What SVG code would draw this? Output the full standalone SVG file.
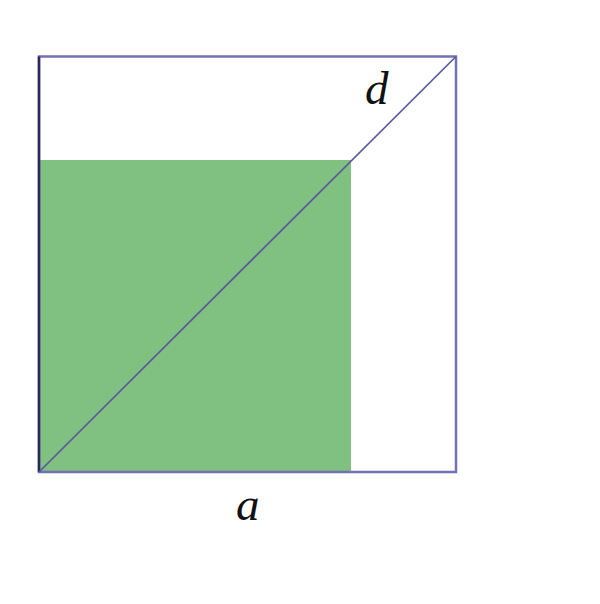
<svg xmlns="http://www.w3.org/2000/svg" width="600" height="604" viewBox="0 0 600 604">
<style>
.lbl{font-family:"Liberation Serif","Times New Roman",serif;font-style:italic;font-size:47px;fill:#111}
.edge{stroke:#7472b4;stroke-width:2.5;fill:none}
</style>
<rect width="600" height="604" fill="#ffffff"/>
<g id="green-square"><rect x="39" y="160" width="312" height="312" fill="#80c080"/></g>
<g id="outer-square"><rect x="39" y="56.5" width="417" height="415.5" class="edge"/>
<line x1="39" y1="56.5" x2="39" y2="472" stroke="#2a2860" stroke-width="2.5"/></g>
<g id="connectors"><line x1="39" y1="472" x2="456" y2="56.5" stroke="#5a5898" stroke-width="1.7"/></g>
<g id="label-d"><text class="lbl" x="365" y="104">d</text></g>
<g id="label-a"><text class="lbl" x="236" y="520">a</text></g>
</svg>
